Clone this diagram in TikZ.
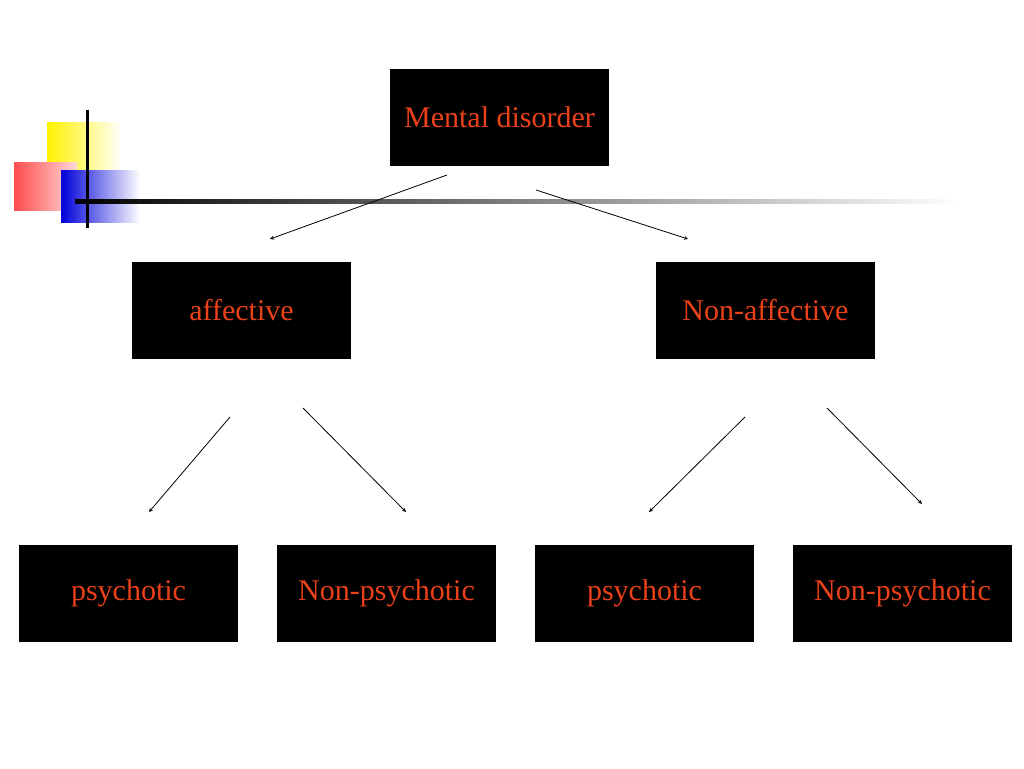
\documentclass[tikz,border=0pt]{standalone}
\usepackage{fontspec}
\setmainfont{Liberation Serif}
\begin{document}
\begin{tikzpicture}[x=1pt,y=-1pt,
  box/.style={fill=black,minimum width=219pt,minimum height=97pt,inner sep=0pt,text=txt,font=\fontsize{30}{32}\selectfont},
  arr/.style={-stealth,line width=0.8pt}]
\definecolor{txt}{RGB}{235,65,25}
\useasboundingbox (0,0) rectangle (1024,768);
\fill[white] (0,0) rectangle (1024,768);
% decoration
\shade[left color=yellow!90!orange,right color=white] (47,122) rectangle (122,192);
\shade[left color=red!70,right color=red!15] (14,162) rectangle (77,210);
\shade[left color=blue!85!black,right color=white] (61,170) rectangle (140,222);
\shade[left color=black,right color=white] (75,199.5) rectangle (960,203);
\fill[black] (85.5,110) rectangle (88.5,228);
% nodes
\node[box] (md) at (499.5,117.5) {Mental disorder};
\node[box] (af) at (241.5,310.5) {affective};
\node[box] (na) at (765.5,310.5) {Non-affective};
\node[box] (p1) at (128.5,593.5) {psychotic};
\node[box] (n1) at (386.5,593.5) {Non-psychotic};
\node[box] (p2) at (644.5,593.5) {psychotic};
\node[box] (n2) at (902.5,593.5) {Non-psychotic};
\coordinate (a1) at (447,175); \coordinate (b1) at (270,239);
\coordinate (a2) at (536,190); \coordinate (b2) at (688,239);
\coordinate (a3) at (230,417); \coordinate (b3) at (149,512);
\coordinate (a4) at (303,408); \coordinate (b4) at (406,512);
\coordinate (a5) at (745,417); \coordinate (b5) at (649,512);
\coordinate (a6) at (827,408); \coordinate (b6) at (922,504);
\foreach \i in {1,...,6} \draw[arr] (a\i) -- (b\i);
\end{tikzpicture}
\end{document}
